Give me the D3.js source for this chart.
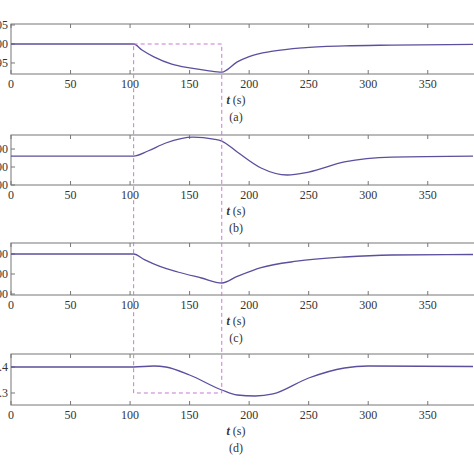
<!DOCTYPE html>
<html>
<head>
<meta charset="utf-8">
<script src="https://cdnjs.cloudflare.com/ajax/libs/d3/7.8.5/d3.min.js"></script>
<style>body{margin:0;background:#fff}text{font-family:"Liberation Serif","DejaVu Serif",serif;fill:#333}</style>
</head>
<body>
<svg></svg>
<script>
var w = 474, h = 474;
var svg = d3.select("svg").attr("width", w).attr("height", h);

var xTicks = [0, 50, 100, 150, 200, 250, 300, 350];
var stepStart = 103, stepEnd = 177;

// series per panel
var tA = [0,103,110,120,135,150,165,177,190,200,220,245,280,320,388];
var vA = [1,1,.984,.966,.947,.937,.930,.926,.953,.967,.981,.99,.995,.997,.999];
var tB = [0,103,115,130,153,170,177,190,210,232,250,280,320,388];
var vB = [522,522,578,667,733,711,689,567,389,311,344,456,511,522];
var tC = [0,103,112,125,140,160,177,190,210,240,280,320,388];
var vC = [300,300,272,238,210,180,155,188,232,264,285,295,297.5];
var tD = [0,103,120,130,150,177,190,205,220,250,280,300,388];
var vD = [.4,.4,.4038,.4,.3692,.3115,.2923,.2885,.2962,.3577,.3962,.4038,.4019];

var panels = [
  {t: tA, v: vA, top: 24, bot: 74, dom: [0.921, 1.0526], ticks: [1.05, 1.00, 0.95], fmt: d3.format(".2f"), lab: "(a)"},
  {t: tB, v: vB, top: 135, bot: 185, dom: [200, 756], ticks: [600, 400, 200], fmt: d3.format("d"), lab: "(b)"},
  {t: tC, v: vC, top: 243, bot: 295, dom: [95, 355], ticks: [300, 200, 100], fmt: d3.format("d"), lab: "(c)"},
  {t: tD, v: vD, top: 354, bot: 405, dom: [0.2538, 0.45], ticks: [0.4, 0.3], fmt: d3.format(".1f"), lab: "(d)"}
];

var x = d3.scaleLinear().domain([0, 388]).range([11, 473]);

panels.forEach(function(p) {
  p.y = d3.scaleLinear().domain(p.dom).range([p.bot, p.top]);
  var g = svg.append("g");
  g.append("rect").attr("x", x(0)).attr("y", p.top).attr("width", 480 - x(0)).attr("height", p.bot - p.top)
    .attr("fill", "none").attr("stroke", "#777").attr("stroke-width", 1);
  xTicks.forEach(function(t) {
    g.append("line").attr("x1", x(t)).attr("x2", x(t)).attr("y1", p.bot).attr("y2", p.bot - 4).attr("stroke", "#777");
    g.append("line").attr("x1", x(t)).attr("x2", x(t)).attr("y1", p.top).attr("y2", p.top + 4).attr("stroke", "#777");
    g.append("text").attr("x", x(t)).attr("y", p.bot + 14).attr("text-anchor", "middle").attr("font-size", 12).text(t);
  });
  p.ticks.forEach(function(v) {
    g.append("line").attr("x1", x(0)).attr("x2", x(0) + 4).attr("y1", p.y(v)).attr("y2", p.y(v)).attr("stroke", "#777");
    g.append("text").attr("x", 8).attr("y", p.y(v) + 4).attr("text-anchor", "end").attr("font-size", 12).text(p.fmt(v));
  });
  var xl = g.append("text").attr("x", 236).attr("y", p.bot + 30).attr("text-anchor", "middle").attr("font-size", 12);
  xl.append("tspan").attr("font-style", "italic").attr("font-weight", "bold").text("t");
  xl.append("tspan").text(" (s)");
  g.append("text").attr("x", 236).attr("y", p.bot + 47).attr("text-anchor", "middle").attr("font-size", 12).text(p.lab);
  g.append("path").datum(d3.range(p.t.length))
    .attr("d", d3.line().curve(d3.curveMonotoneX).x(function(i) { return x(p.t[i]); }).y(function(i) { return p.y(p.v[i]); }))
    .attr("fill", "none").attr("stroke", "#5b4f9e").attr("stroke-width", 1.3);
});

// dashed step outline
var yTop = panels[0].y(1.0), yBot = panels[3].y(0.3);
svg.append("path")
  .attr("d", "M" + x(stepStart) + "," + yTop + "H" + x(stepEnd) + "V" + yBot + "H" + x(stepStart) + "Z")
  .attr("fill", "none").attr("stroke", "#c77ad6").attr("stroke-width", 1).attr("stroke-dasharray", "4,3");
</script>
</body>
</html>
